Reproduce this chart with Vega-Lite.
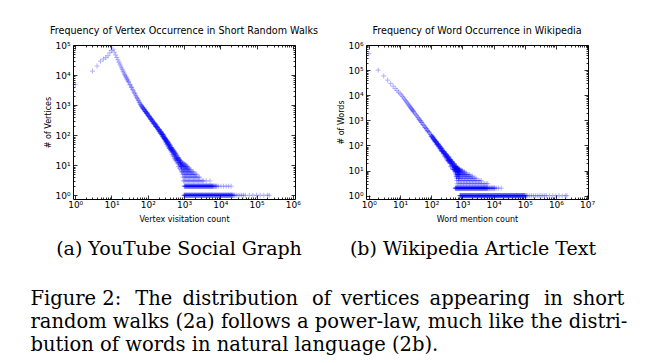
{
"$schema": "https://vega.github.io/schema/vega-lite/v6.json",
"padding": {"left": 30, "top": 25, "right": 5, "bottom": 5},
"autosize": {"type": "pad"},
"background": "white",
"datasets": {
"a": [
{"x":1,"y":4900},{"x":3,"y":13500},{"x":4,"y":20000},{"x":5,"y":29000},{"x":6,"y":34000},{"x":7,"y":38000},{"x":8,"y":44000},{"x":9,"y":55000},{"x":10,"y":66000},{"x":11,"y":72000},{"x":12,"y":57500},{"x":13,"y":46500},{"x":14,"y":38500},{"x":15,"y":32000},{"x":16,"y":27000},{"x":17,"y":23200},{"x":18,"y":19950},{"x":19,"y":17200},{"x":20,"y":15100},{"x":21,"y":13300},{"x":22,"y":11800},{"x":23,"y":10500},{"x":24,"y":9500},
{"x":25,"y":8700},{"x":26,"y":8050},{"x":27,"y":7300},{"x":28,"y":6800},{"x":29,"y":6180},{"x":30,"y":5800},{"x":32,"y":4930},{"x":33,"y":4650},{"x":35,"y":4020},{"x":36,"y":3830},{"x":38,"y":3330},{"x":40,"y":3010},{"x":42,"y":2650},{"x":44,"y":2430},{"x":46,"y":2150},{"x":48,"y":1990},{"x":50,"y":1780},{"x":52,"y":1660},{"x":54,"y":1490},{"x":56,"y":1400},{"x":58,"y":1265},{"x":60,"y":1200},{"x":62,"y":1085},
{"x":64,"y":1042},{"x":67,"y":925},{"x":70,"y":881},{"x":73,"y":782},{"x":76,"y":790},{"x":79,"y":708},{"x":82,"y":684},{"x":85,"y":610},{"x":88,"y":628},{"x":91,"y":550},{"x":94,"y":535},{"x":97,"y":523},{"x":100,"y":460},{"x":104,"y":460},{"x":108,"y":419},{"x":112,"y":422},{"x":116,"y":350},{"x":120,"y":367},{"x":124,"y":335},{"x":128,"y":336},{"x":132,"y":317},{"x":136,"y":280},{"x":140,"y":278},{"x":145,"y":241},{"x":150,"y":261},{"x":155,"y":229},{"x":160,"y":227},{"x":165,"y":197},{"x":170,"y":217},{"x":175,"y":182},{"x":180,"y":181},{"x":186,"y":180},{"x":192,"y":150},{"x":198,"y":160},{"x":204,"y":143},{"x":210,"y":153},{"x":216,"y":118},{"x":222,"y":135},{"x":228,"y":121},{"x":234,"y":127},{"x":240,"y":120},{"x":246,"y":103},
{"x":66,"y":978},{"x":69,"y":928},{"x":72,"y":817},{"x":75,"y":801},{"x":78,"y":730},{"x":81,"y":721},{"x":84,"y":616},{"x":87,"y":630},{"x":90,"y":578},{"x":93,"y":570},{"x":96,"y":539},{"x":99,"y":483},{"x":102,"y":471},{"x":106,"y":413},{"x":110,"y":432},{"x":114,"y":384},{"x":118,"y":376},{"x":122,"y":329},{"x":126,"y":352},{"x":130,"y":300},{"x":134,"y":295},{"x":138,"y":293},{"x":143,"y":251},{"x":148,"y":258},{"x":153,"y":233},{"x":158,"y":243},{"x":163,"y":194},{"x":168,"y":213},{"x":173,"y":193},{"x":178,"y":197},{"x":183,"y":187},{"x":189,"y":161},{"x":195,"y":162},{"x":201,"y":136},{"x":207,"y":155},{"x":213,"y":135},{"x":219,"y":137},{"x":225,"y":115},{"x":231,"y":134},{"x":237,"y":109},{"x":243,"y":110},
{"x":250,"y":108},{"x":255,"y":90},{"x":260,"y":108},{"x":265,"y":92},{"x":270,"y":96},{"x":276,"y":78},{"x":282,"y":95},{"x":288,"y":75},{"x":294,"y":77},{"x":300,"y":80},{"x":306,"y":63},{"x":312,"y":72},{"x":318,"y":63},{"x":325,"y":72},{"x":332,"y":50},{"x":339,"y":63},{"x":346,"y":55},{"x":353,"y":60},{"x":360,"y":58},{"x":367,"y":46},{"x":374,"y":49},{"x":382,"y":38},{"x":390,"y":51},{"x":398,"y":41},{"x":406,"y":44},{"x":414,"y":34},{"x":422,"y":46},{"x":431,"y":33},{"x":440,"y":35},{"x":449,"y":38},{"x":458,"y":27},{"x":467,"y":33},{"x":476,"y":28},{"x":486,"y":35},{"x":496,"y":20},{"x":506,"y":30},{"x":516,"y":25},{"x":527,"y":29},{"x":538,"y":27},{"x":549,"y":20},{"x":560,"y":23},{"x":571,"y":15},{"x":583,"y":24},{"x":595,"y":18},{"x":607,"y":21},{"x":619,"y":14},{"x":632,"y":22},{"x":645,"y":14},{"x":658,"y":16},{"x":671,"y":18},{"x":685,"y":11},{"x":699,"y":16},{"x":713,"y":12},{"x":728,"y":17},{"x":743,"y":8},{"x":758,"y":14},{"x":773,"y":11},{"x":789,"y":14},{"x":805,"y":13},{"x":821,"y":9},{"x":838,"y":10},{"x":855,"y":6},
{"x":252,"y":102},{"x":257,"y":105},{"x":262,"y":87},{"x":267,"y":105},{"x":273,"y":83},{"x":279,"y":85},{"x":285,"y":88},{"x":291,"y":70},{"x":297,"y":79},{"x":303,"y":70},{"x":309,"y":79},{"x":315,"y":56},{"x":321,"y":69},{"x":328,"y":61},{"x":335,"y":66},{"x":342,"y":63},{"x":349,"y":51},{"x":356,"y":54},{"x":363,"y":42},{"x":370,"y":56},{"x":378,"y":46},{"x":386,"y":48},{"x":394,"y":37},{"x":402,"y":50},{"x":410,"y":36},{"x":418,"y":39},{"x":426,"y":41},{"x":435,"y":30},{"x":444,"y":37},{"x":453,"y":31},{"x":462,"y":38},{"x":471,"y":23},{"x":481,"y":33},{"x":491,"y":28},{"x":501,"y":32},{"x":511,"y":30},{"x":521,"y":22},{"x":532,"y":25},{"x":543,"y":17},{"x":554,"y":27},{"x":565,"y":20},{"x":577,"y":23},{"x":589,"y":16},{"x":601,"y":25},{"x":613,"y":16},{"x":625,"y":17},{"x":638,"y":20},{"x":651,"y":12},{"x":664,"y":17},{"x":678,"y":14},{"x":692,"y":18},{"x":706,"y":9},{"x":720,"y":15},{"x":735,"y":12},{"x":750,"y":15},{"x":765,"y":15},{"x":781,"y":10},{"x":797,"y":12},{"x":813,"y":7},{"x":829,"y":13},{"x":846,"y":9},
{"x":800,"y":12},{"x":870,"y":12},{"x":935,"y":12},
{"x":820,"y":11},{"x":900,"y":11},{"x":980,"y":11},{"x":1050,"y":11},
{"x":830,"y":10},{"x":910,"y":10},{"x":990,"y":10},{"x":1070,"y":10},{"x":1140,"y":10},
{"x":860,"y":9},{"x":940,"y":9},{"x":1020,"y":9},{"x":1100,"y":9},{"x":1180,"y":9},{"x":1260,"y":9},
{"x":870,"y":8},{"x":950,"y":8},{"x":1030,"y":8},{"x":1110,"y":8},{"x":1200,"y":8},{"x":1290,"y":8},{"x":1380,"y":8},
{"x":880,"y":7},{"x":960,"y":7},{"x":1045,"y":7},{"x":1130,"y":7},{"x":1220,"y":7},{"x":1320,"y":7},{"x":1430,"y":7},{"x":1540,"y":7},
{"x":900,"y":6},{"x":980,"y":6},{"x":1060,"y":6},{"x":1150,"y":6},{"x":1250,"y":6},{"x":1350,"y":6},{"x":1460,"y":6},{"x":1580,"y":6},{"x":1710,"y":6},{"x":1850,"y":6},
{"x":920,"y":5},{"x":1000,"y":5},{"x":1085,"y":5},{"x":1175,"y":5},{"x":1275,"y":5},{"x":1380,"y":5},{"x":1495,"y":5},{"x":1620,"y":5},{"x":1755,"y":5},{"x":1900,"y":5},{"x":2060,"y":5},{"x":2230,"y":5},
{"x":940,"y":4},{"x":1020,"y":4},{"x":1105,"y":4},{"x":1200,"y":4},{"x":1300,"y":4},{"x":1410,"y":4},{"x":1530,"y":4},{"x":1660,"y":4},{"x":1800,"y":4},{"x":1950,"y":4},{"x":2110,"y":4},{"x":2290,"y":4},{"x":2480,"y":4},{"x":2690,"y":4},
{"x":960,"y":3},{"x":1040,"y":3},{"x":1130,"y":3},{"x":1225,"y":3},{"x":1330,"y":3},{"x":1440,"y":3},{"x":1560,"y":3},{"x":1690,"y":3},{"x":1830,"y":3},{"x":1985,"y":3},{"x":2150,"y":3},{"x":2330,"y":3},{"x":2525,"y":3},{"x":2740,"y":3},{"x":2970,"y":3},{"x":3220,"y":3},{"x":3490,"y":3},{"x":4100,"y":3},{"x":5200,"y":3},
{"x":1023,"y":2},{"x":1072,"y":2},{"x":1122,"y":2},{"x":1175,"y":2},{"x":1230,"y":2},{"x":1288,"y":2},{"x":1349,"y":2},{"x":1413,"y":2},{"x":1479,"y":2},{"x":1549,"y":2},{"x":1622,"y":2},{"x":1698,"y":2},{"x":1778,"y":2},{"x":1862,"y":2},{"x":1950,"y":2},{"x":2042,"y":2},{"x":2138,"y":2},{"x":2239,"y":2},{"x":2344,"y":2},{"x":2455,"y":2},{"x":2570,"y":2},{"x":2692,"y":2},{"x":2818,"y":2},{"x":2951,"y":2},{"x":3090,"y":2},{"x":3236,"y":2},{"x":3388,"y":2},{"x":3548,"y":2},{"x":3715,"y":2},{"x":3890,"y":2},{"x":4074,"y":2},{"x":4266,"y":2},{"x":4467,"y":2},{"x":4677,"y":2},{"x":4898,"y":2},{"x":5129,"y":2},{"x":5370,"y":2},{"x":5623,"y":2},{"x":5888,"y":2},{"x":6166,"y":2},{"x":6457,"y":2},{"x":6761,"y":2},{"x":7079,"y":2},{"x":7413,"y":2},{"x":7762,"y":2},{"x":8128,"y":2},{"x":9000,"y":2},{"x":10500,"y":2},{"x":12300,"y":2},{"x":14500,"y":2},{"x":17000,"y":2},{"x":20000,"y":2},
{"x":1047,"y":2},{"x":1096,"y":2},{"x":1148,"y":2},{"x":1202,"y":2},{"x":1259,"y":2},{"x":1318,"y":2},{"x":1380,"y":2},{"x":1445,"y":2},{"x":1514,"y":2},{"x":1585,"y":2},{"x":1660,"y":2},{"x":1738,"y":2},{"x":1820,"y":2},{"x":1905,"y":2},{"x":1995,"y":2},{"x":2089,"y":2},{"x":2188,"y":2},{"x":2291,"y":2},{"x":2399,"y":2},{"x":2512,"y":2},{"x":2630,"y":2},{"x":2754,"y":2},{"x":2884,"y":2},{"x":3020,"y":2},{"x":3162,"y":2},{"x":3311,"y":2},{"x":3467,"y":2},{"x":3631,"y":2},{"x":3802,"y":2},{"x":3981,"y":2},{"x":4169,"y":2},{"x":4365,"y":2},{"x":4571,"y":2},{"x":4786,"y":2},{"x":5012,"y":2},{"x":5248,"y":2},{"x":5495,"y":2},{"x":5754,"y":2},{"x":6026,"y":2},{"x":6310,"y":2},
{"x":1000,"y":1},{"x":1047,"y":1},{"x":1096,"y":1},{"x":1148,"y":1},{"x":1202,"y":1},{"x":1259,"y":1},{"x":1318,"y":1},{"x":1380,"y":1},{"x":1445,"y":1},{"x":1514,"y":1},{"x":1585,"y":1},{"x":1660,"y":1},{"x":1738,"y":1},{"x":1820,"y":1},{"x":1905,"y":1},{"x":1995,"y":1},{"x":2089,"y":1},{"x":2188,"y":1},{"x":2291,"y":1},{"x":2399,"y":1},{"x":2512,"y":1},{"x":2630,"y":1},{"x":2754,"y":1},{"x":2884,"y":1},{"x":3020,"y":1},{"x":3162,"y":1},{"x":3311,"y":1},{"x":3467,"y":1},{"x":3631,"y":1},{"x":3802,"y":1},{"x":3981,"y":1},{"x":4169,"y":1},{"x":4365,"y":1},{"x":4571,"y":1},{"x":4786,"y":1},{"x":5012,"y":1},{"x":5248,"y":1},{"x":5495,"y":1},{"x":5754,"y":1},{"x":6026,"y":1},{"x":6310,"y":1},{"x":6607,"y":1},{"x":6918,"y":1},{"x":7244,"y":1},{"x":7586,"y":1},{"x":7943,"y":1},{"x":8318,"y":1},{"x":8710,"y":1},{"x":9120,"y":1},{"x":9550,"y":1},{"x":10000,"y":1},{"x":10470,"y":1},{"x":10960,"y":1},{"x":11480,"y":1},{"x":12020,"y":1},{"x":12590,"y":1},{"x":13180,"y":1},{"x":13800,"y":1},{"x":14450,"y":1},{"x":15140,"y":1},{"x":15850,"y":1},{"x":16600,"y":1},{"x":17380,"y":1},{"x":18200,"y":1},{"x":19050,"y":1},{"x":19950,"y":1},{"x":20890,"y":1},{"x":21880,"y":1},{"x":22910,"y":1},{"x":23990,"y":1},{"x":25120,"y":1},{"x":27540,"y":1},{"x":30900,"y":1},{"x":34670,"y":1},{"x":38900,"y":1},{"x":43650,"y":1},{"x":48980,"y":1},{"x":63100,"y":1},{"x":79430,"y":1},{"x":100000,"y":1},{"x":125900,"y":1},{"x":158500,"y":1},{"x":199500,"y":1},{"x":223900,"y":1},
{"x":1023,"y":1},{"x":1072,"y":1},{"x":1122,"y":1},{"x":1175,"y":1},{"x":1230,"y":1},{"x":1288,"y":1},{"x":1349,"y":1},{"x":1413,"y":1},{"x":1479,"y":1},{"x":1549,"y":1},{"x":1622,"y":1},{"x":1698,"y":1},{"x":1778,"y":1},{"x":1862,"y":1},{"x":1950,"y":1},{"x":2042,"y":1},{"x":2138,"y":1},{"x":2239,"y":1},{"x":2344,"y":1},{"x":2455,"y":1},{"x":2570,"y":1},{"x":2692,"y":1},{"x":2818,"y":1},{"x":2951,"y":1},{"x":3090,"y":1},{"x":3236,"y":1},{"x":3388,"y":1},{"x":3548,"y":1},{"x":3715,"y":1},{"x":3890,"y":1},{"x":4074,"y":1},{"x":4266,"y":1},{"x":4467,"y":1},{"x":4677,"y":1},{"x":4898,"y":1},{"x":5129,"y":1},{"x":5370,"y":1},{"x":5623,"y":1},{"x":5888,"y":1},{"x":6166,"y":1},{"x":6457,"y":1},{"x":6761,"y":1},{"x":7079,"y":1},{"x":7413,"y":1},{"x":7762,"y":1},{"x":8128,"y":1},{"x":8511,"y":1},{"x":8913,"y":1},{"x":9333,"y":1},{"x":9772,"y":1},{"x":10233,"y":1},{"x":10715,"y":1},{"x":11220,"y":1},{"x":11749,"y":1},{"x":12303,"y":1},{"x":12882,"y":1},{"x":13490,"y":1},{"x":14125,"y":1},{"x":14791,"y":1},{"x":15488,"y":1},{"x":16218,"y":1},{"x":16982,"y":1},{"x":17783,"y":1},{"x":18621,"y":1},{"x":19498,"y":1},{"x":20417,"y":1},{"x":21380,"y":1}
],
"b": [
{"x":1,"y":450000},{"x":2,"y":100000},{"x":3,"y":59000},{"x":4,"y":40000},{"x":5,"y":29500},{"x":6,"y":23000},{"x":7,"y":18700},{"x":8,"y":15600},{"x":9,"y":13300},{"x":10,"y":11500},{"x":11,"y":10300},
{"x":12,"y":8930},{"x":13,"y":7800},{"x":14,"y":6880},{"x":15,"y":6120},{"x":16,"y":5490},{"x":17,"y":4960},{"x":18,"y":4500},{"x":19,"y":4110},{"x":20,"y":3770},{"x":21,"y":3470},{"x":22,"y":3210},{"x":23,"y":2970},{"x":24,"y":2770},{"x":25,"y":2580},{"x":26,"y":2420},{"x":27,"y":2270},{"x":28,"y":2130},{"x":30,"y":1900},{"x":32,"y":1700},
{"x":34,"y":1566},{"x":36,"y":1374},{"x":38,"y":1280},{"x":40,"y":1126},{"x":42,"y":1108},{"x":44,"y":987},{"x":46,"y":936},{"x":48,"y":831},{"x":50,"y":836},{"x":53,"y":709},{"x":56,"y":661},{"x":59,"y":622},{"x":62,"y":532},{"x":65,"y":523},{"x":68,"y":469},{"x":71,"y":466},{"x":74,"y":385},{"x":77,"y":398},{"x":80,"y":360},{"x":84,"y":349},{"x":88,"y":322},{"x":92,"y":278},{"x":96,"y":269},{"x":100,"y":229},
{"x":104,"y":247},{"x":108,"y":215},{"x":112,"y":212},{"x":116,"y":181},{"x":120,"y":200},{"x":124,"y":165},{"x":128,"y":163},{"x":132,"y":164},{"x":136,"y":136},{"x":140,"y":146},{"x":145,"y":129},{"x":150,"y":137},{"x":155,"y":103},{"x":160,"y":118},{"x":165,"y":105},{"x":170,"y":110},{"x":175,"y":104},{"x":180,"y":87},{"x":186,"y":89},{"x":192,"y":72},{"x":198,"y":87},{"x":204,"y":73},{"x":210,"y":75},{"x":216,"y":60},{"x":222,"y":75},{"x":228,"y":57},{"x":235,"y":59},{"x":242,"y":61},{"x":249,"y":46},{"x":256,"y":53},{"x":263,"y":46},{"x":270,"y":54},{"x":278,"y":35},{"x":286,"y":46},{"x":294,"y":40},{"x":302,"y":44},{"x":310,"y":41},
{"x":102,"y":237},{"x":106,"y":233},{"x":110,"y":198},{"x":114,"y":217},{"x":118,"y":179},{"x":122,"y":178},{"x":126,"y":177},{"x":130,"y":146},{"x":134,"y":156},{"x":138,"y":141},{"x":142,"y":149},{"x":147,"y":113},{"x":152,"y":128},{"x":157,"y":114},{"x":162,"y":118},{"x":167,"y":112},{"x":172,"y":94},{"x":177,"y":96},{"x":183,"y":78},{"x":189,"y":94},{"x":195,"y":79},{"x":201,"y":81},{"x":207,"y":65},{"x":213,"y":80},{"x":219,"y":61},{"x":225,"y":63},{"x":231,"y":65},{"x":238,"y":50},{"x":245,"y":57},{"x":252,"y":50},{"x":259,"y":57},{"x":266,"y":38},{"x":274,"y":49},{"x":282,"y":42},{"x":290,"y":47},{"x":298,"y":44},{"x":306,"y":34},{"x":314,"y":37},
{"x":318,"y":32},{"x":325,"y":35},{"x":332,"y":26},{"x":339,"y":37},{"x":346,"y":29},{"x":353,"y":32},{"x":360,"y":24},{"x":368,"y":34},{"x":376,"y":23},{"x":384,"y":26},{"x":392,"y":28},{"x":400,"y":19},{"x":408,"y":25},{"x":417,"y":21},{"x":426,"y":27},{"x":435,"y":14},{"x":444,"y":23},{"x":453,"y":19},{"x":463,"y":22},{"x":473,"y":21},{"x":483,"y":15},{"x":493,"y":17},{"x":504,"y":11},{"x":515,"y":19},{"x":526,"y":14},{"x":537,"y":16},{"x":548,"y":11},{"x":560,"y":18},{"x":572,"y":11},{"x":584,"y":13},{"x":596,"y":15},{"x":609,"y":8},{"x":622,"y":13},{"x":635,"y":10},{"x":648,"y":14},{"x":662,"y":6},{"x":676,"y":12},{"x":690,"y":9},{"x":705,"y":12},{"x":720,"y":11},{"x":735,"y":7},{"x":750,"y":9},{"x":766,"y":5},{"x":782,"y":10},{"x":798,"y":7},
{"x":321,"y":27},{"x":328,"y":39},{"x":335,"y":31},{"x":342,"y":34},{"x":349,"y":25},{"x":356,"y":36},{"x":364,"y":25},{"x":372,"y":27},{"x":380,"y":30},{"x":388,"y":20},{"x":396,"y":26},{"x":404,"y":22},{"x":412,"y":28},{"x":421,"y":15},{"x":430,"y":24},{"x":439,"y":20},{"x":448,"y":24},{"x":458,"y":23},{"x":468,"y":16},{"x":478,"y":18},{"x":488,"y":12},{"x":498,"y":20},{"x":509,"y":15},{"x":520,"y":17},{"x":531,"y":11},{"x":542,"y":19},{"x":554,"y":11},{"x":566,"y":13},{"x":578,"y":15},{"x":590,"y":9},{"x":602,"y":13},{"x":615,"y":10},{"x":628,"y":15},{"x":641,"y":6},{"x":655,"y":12},{"x":669,"y":10},{"x":683,"y":12},{"x":697,"y":12},{"x":712,"y":7},{"x":727,"y":9},{"x":742,"y":5},{"x":758,"y":11},{"x":774,"y":7},{"x":790,"y":9},
{"x":560,"y":14},{"x":620,"y":14},
{"x":570,"y":13},{"x":640,"y":13},{"x":700,"y":13},
{"x":580,"y":12},{"x":650,"y":12},{"x":720,"y":12},{"x":790,"y":12},
{"x":590,"y":11},{"x":660,"y":11},{"x":735,"y":11},{"x":810,"y":11},{"x":890,"y":11},
{"x":600,"y":10},{"x":670,"y":10},{"x":745,"y":10},{"x":825,"y":10},{"x":910,"y":10},{"x":1000,"y":10},
{"x":610,"y":9},{"x":685,"y":9},{"x":760,"y":9},{"x":845,"y":9},{"x":935,"y":9},{"x":1035,"y":9},{"x":1150,"y":9},
{"x":620,"y":8},{"x":700,"y":8},{"x":780,"y":8},{"x":865,"y":8},{"x":960,"y":8},{"x":1065,"y":8},{"x":1180,"y":8},{"x":1310,"y":8},
{"x":630,"y":7},{"x":710,"y":7},{"x":795,"y":7},{"x":885,"y":7},{"x":985,"y":7},{"x":1095,"y":7},{"x":1215,"y":7},{"x":1350,"y":7},{"x":1500,"y":7},{"x":1670,"y":7},
{"x":640,"y":6},{"x":720,"y":6},{"x":810,"y":6},{"x":905,"y":6},{"x":1010,"y":6},{"x":1125,"y":6},{"x":1250,"y":6},{"x":1390,"y":6},{"x":1545,"y":6},{"x":1720,"y":6},{"x":1910,"y":6},{"x":2120,"y":6},
{"x":650,"y":5},{"x":735,"y":5},{"x":825,"y":5},{"x":925,"y":5},{"x":1035,"y":5},{"x":1155,"y":5},{"x":1290,"y":5},{"x":1435,"y":5},{"x":1600,"y":5},{"x":1780,"y":5},{"x":1985,"y":5},{"x":2210,"y":5},{"x":2460,"y":5},{"x":2740,"y":5},
{"x":660,"y":4},{"x":750,"y":4},{"x":840,"y":4},{"x":945,"y":4},{"x":1060,"y":4},{"x":1185,"y":4},{"x":1325,"y":4},{"x":1480,"y":4},{"x":1655,"y":4},{"x":1850,"y":4},{"x":2065,"y":4},{"x":2310,"y":4},{"x":2580,"y":4},{"x":2880,"y":4},{"x":3220,"y":4},{"x":3600,"y":4},{"x":4000,"y":4},
{"x":680,"y":3},{"x":765,"y":3},{"x":860,"y":3},{"x":965,"y":3},{"x":1085,"y":3},{"x":1215,"y":3},{"x":1360,"y":3},{"x":1520,"y":3},{"x":1700,"y":3},{"x":1900,"y":3},{"x":2125,"y":3},{"x":2375,"y":3},{"x":2655,"y":3},{"x":2970,"y":3},{"x":3320,"y":3},{"x":3710,"y":3},{"x":4150,"y":3},{"x":4640,"y":3},{"x":5190,"y":3},{"x":5800,"y":3},{"x":6500,"y":3},
{"x":589,"y":2},{"x":617,"y":2},{"x":646,"y":2},{"x":676,"y":2},{"x":708,"y":2},{"x":741,"y":2},{"x":776,"y":2},{"x":813,"y":2},{"x":851,"y":2},{"x":891,"y":2},{"x":933,"y":2},{"x":977,"y":2},{"x":1023,"y":2},{"x":1072,"y":2},{"x":1122,"y":2},{"x":1175,"y":2},{"x":1230,"y":2},{"x":1288,"y":2},{"x":1349,"y":2},{"x":1413,"y":2},{"x":1479,"y":2},{"x":1549,"y":2},{"x":1622,"y":2},{"x":1698,"y":2},{"x":1778,"y":2},{"x":1862,"y":2},{"x":1950,"y":2},{"x":2042,"y":2},{"x":2138,"y":2},{"x":2239,"y":2},{"x":2344,"y":2},{"x":2455,"y":2},{"x":2570,"y":2},{"x":2692,"y":2},{"x":2818,"y":2},{"x":2951,"y":2},{"x":3090,"y":2},{"x":3236,"y":2},{"x":3388,"y":2},{"x":3548,"y":2},{"x":3715,"y":2},{"x":3890,"y":2},{"x":4074,"y":2},{"x":4266,"y":2},{"x":4467,"y":2},{"x":4677,"y":2},{"x":4898,"y":2},{"x":5129,"y":2},{"x":5370,"y":2},{"x":5623,"y":2},{"x":5888,"y":2},{"x":6166,"y":2},{"x":6457,"y":2},{"x":6761,"y":2},{"x":7079,"y":2},{"x":7413,"y":2},{"x":7762,"y":2},{"x":8128,"y":2},{"x":8511,"y":2},{"x":8913,"y":2},{"x":9333,"y":2},{"x":9772,"y":2},{"x":10233,"y":2},{"x":10715,"y":2},{"x":11220,"y":2},{"x":12600,"y":2},{"x":14500,"y":2},{"x":17800,"y":2},
{"x":603,"y":2},{"x":631,"y":2},{"x":661,"y":2},{"x":692,"y":2},{"x":724,"y":2},{"x":759,"y":2},{"x":794,"y":2},{"x":832,"y":2},{"x":871,"y":2},{"x":912,"y":2},{"x":955,"y":2},{"x":1000,"y":2},{"x":1047,"y":2},{"x":1096,"y":2},{"x":1148,"y":2},{"x":1202,"y":2},{"x":1259,"y":2},{"x":1318,"y":2},{"x":1380,"y":2},{"x":1445,"y":2},{"x":1514,"y":2},{"x":1585,"y":2},{"x":1660,"y":2},{"x":1738,"y":2},{"x":1820,"y":2},{"x":1905,"y":2},{"x":1995,"y":2},{"x":2089,"y":2},{"x":2188,"y":2},{"x":2291,"y":2},{"x":2399,"y":2},{"x":2512,"y":2},{"x":2630,"y":2},{"x":2754,"y":2},{"x":2884,"y":2},{"x":3020,"y":2},{"x":3162,"y":2},{"x":3311,"y":2},{"x":3467,"y":2},{"x":3631,"y":2},{"x":3802,"y":2},{"x":3981,"y":2},{"x":4169,"y":2},{"x":4365,"y":2},{"x":4571,"y":2},{"x":4786,"y":2},{"x":5012,"y":2},{"x":5248,"y":2},{"x":5495,"y":2},{"x":5754,"y":2},{"x":6026,"y":2},{"x":6310,"y":2},
{"x":832,"y":1},{"x":871,"y":1},{"x":912,"y":1},{"x":955,"y":1},{"x":1000,"y":1},{"x":1047,"y":1},{"x":1096,"y":1},{"x":1148,"y":1},{"x":1202,"y":1},{"x":1259,"y":1},{"x":1318,"y":1},{"x":1380,"y":1},{"x":1445,"y":1},{"x":1514,"y":1},{"x":1585,"y":1},{"x":1660,"y":1},{"x":1738,"y":1},{"x":1820,"y":1},{"x":1905,"y":1},{"x":1995,"y":1},{"x":2089,"y":1},{"x":2188,"y":1},{"x":2291,"y":1},{"x":2399,"y":1},{"x":2512,"y":1},{"x":2630,"y":1},{"x":2754,"y":1},{"x":2884,"y":1},{"x":3020,"y":1},{"x":3162,"y":1},{"x":3311,"y":1},{"x":3467,"y":1},{"x":3631,"y":1},{"x":3802,"y":1},{"x":3981,"y":1},{"x":4169,"y":1},{"x":4365,"y":1},{"x":4571,"y":1},{"x":4786,"y":1},{"x":5012,"y":1},{"x":5248,"y":1},{"x":5495,"y":1},{"x":5754,"y":1},{"x":6026,"y":1},{"x":6310,"y":1},{"x":6607,"y":1},{"x":6918,"y":1},{"x":7244,"y":1},{"x":7586,"y":1},{"x":7943,"y":1},{"x":8318,"y":1},{"x":8710,"y":1},{"x":9120,"y":1},{"x":9550,"y":1},{"x":10000,"y":1},{"x":10470,"y":1},{"x":10960,"y":1},{"x":11480,"y":1},{"x":12020,"y":1},{"x":12590,"y":1},{"x":13180,"y":1},{"x":13800,"y":1},{"x":14450,"y":1},{"x":15140,"y":1},{"x":15850,"y":1},{"x":16600,"y":1},{"x":17380,"y":1},{"x":18200,"y":1},{"x":19050,"y":1},{"x":19950,"y":1},{"x":20890,"y":1},{"x":21880,"y":1},{"x":22910,"y":1},{"x":23990,"y":1},{"x":25120,"y":1},{"x":26300,"y":1},{"x":27540,"y":1},{"x":28840,"y":1},{"x":30200,"y":1},{"x":31620,"y":1},{"x":33110,"y":1},{"x":34670,"y":1},{"x":36310,"y":1},{"x":38020,"y":1},{"x":39810,"y":1},{"x":41690,"y":1},{"x":43650,"y":1},{"x":45710,"y":1},{"x":47860,"y":1},{"x":50120,"y":1},{"x":52480,"y":1},{"x":54950,"y":1},{"x":57540,"y":1},{"x":60260,"y":1},{"x":63100,"y":1},{"x":66070,"y":1},{"x":69180,"y":1},{"x":72440,"y":1},{"x":75860,"y":1},{"x":79430,"y":1},{"x":83180,"y":1},{"x":87100,"y":1},{"x":91200,"y":1},{"x":95500,"y":1},{"x":100000,"y":1},{"x":104700,"y":1},{"x":109600,"y":1},{"x":114800,"y":1},{"x":125900,"y":1},{"x":144500,"y":1},{"x":166000,"y":1},{"x":190500,"y":1},{"x":218800,"y":1},{"x":251200,"y":1},{"x":288400,"y":1},{"x":331100,"y":1},{"x":380200,"y":1},{"x":436500,"y":1},{"x":501200,"y":1},{"x":631000,"y":1},{"x":794300,"y":1},{"x":1000000,"y":1},{"x":1259000,"y":1},{"x":1585000,"y":1},{"x":1995000,"y":1},{"x":2239000,"y":1},
{"x":851,"y":1},{"x":891,"y":1},{"x":933,"y":1},{"x":977,"y":1},{"x":1023,"y":1},{"x":1072,"y":1},{"x":1122,"y":1},{"x":1175,"y":1},{"x":1230,"y":1},{"x":1288,"y":1},{"x":1349,"y":1},{"x":1413,"y":1},{"x":1479,"y":1},{"x":1549,"y":1},{"x":1622,"y":1},{"x":1698,"y":1},{"x":1778,"y":1},{"x":1862,"y":1},{"x":1950,"y":1},{"x":2042,"y":1},{"x":2138,"y":1},{"x":2239,"y":1},{"x":2344,"y":1},{"x":2455,"y":1},{"x":2570,"y":1},{"x":2692,"y":1},{"x":2818,"y":1},{"x":2951,"y":1},{"x":3090,"y":1},{"x":3236,"y":1},{"x":3388,"y":1},{"x":3548,"y":1},{"x":3715,"y":1},{"x":3890,"y":1},{"x":4074,"y":1},{"x":4266,"y":1},{"x":4467,"y":1},{"x":4677,"y":1},{"x":4898,"y":1},{"x":5129,"y":1},{"x":5370,"y":1},{"x":5623,"y":1},{"x":5888,"y":1},{"x":6166,"y":1},{"x":6457,"y":1},{"x":6761,"y":1},{"x":7079,"y":1},{"x":7413,"y":1},{"x":7762,"y":1},{"x":8128,"y":1},{"x":8511,"y":1},{"x":8913,"y":1},{"x":9333,"y":1},{"x":9772,"y":1},{"x":10233,"y":1},{"x":10715,"y":1},{"x":11220,"y":1},{"x":11749,"y":1},{"x":12303,"y":1},{"x":12882,"y":1},{"x":13490,"y":1},{"x":14125,"y":1},{"x":14791,"y":1},{"x":15488,"y":1},{"x":16218,"y":1},{"x":16982,"y":1},{"x":17783,"y":1},{"x":18621,"y":1},{"x":19498,"y":1},{"x":20417,"y":1},{"x":21380,"y":1},{"x":22387,"y":1},{"x":23442,"y":1},{"x":24547,"y":1},{"x":25704,"y":1},{"x":26915,"y":1},{"x":28184,"y":1},{"x":29512,"y":1},{"x":30903,"y":1},{"x":32359,"y":1},{"x":33884,"y":1},{"x":35481,"y":1},{"x":37154,"y":1},{"x":38905,"y":1},{"x":40738,"y":1},{"x":42658,"y":1},{"x":44668,"y":1},{"x":46774,"y":1},{"x":48978,"y":1},{"x":51286,"y":1},{"x":53703,"y":1},{"x":56234,"y":1},{"x":58884,"y":1},{"x":61660,"y":1},{"x":64565,"y":1},{"x":67608,"y":1},{"x":70795,"y":1},{"x":74131,"y":1},{"x":77625,"y":1},{"x":81283,"y":1},{"x":85114,"y":1},{"x":89125,"y":1},{"x":93325,"y":1},{"x":97724,"y":1}
]
},
"config": {
"view": {"stroke": "black", "strokeWidth": 1},
"axis": {"labelFont": "DejaVu Sans", "titleFont": "DejaVu Sans", "labelFontSize": 9, "titleFontSize": 8, "titleFontWeight": "normal", "labelColor": "black", "titleColor": "black", "domain": false, "grid": false, "tickColor": "black", "tickWidth": 0.8, "labelOverlap": false, "labelFlush": false},
"title": {"font": "DejaVu Sans", "fontSize": 9.6, "fontWeight": "normal", "color": "black"}
},
"title": {"text": ["Figure 2: \u2009\u2009The \u2009distribution \u2009\u2009of \u2009vertices \u2009appearing \u2009\u2009in \u2009short", "random walks (2a) follows a power-law, much like the distri-", "bution of words in natural language (2b)."], "orient": "bottom", "anchor": "start", "font": "DejaVu Serif", "fontSize": 19.5, "lineHeight": 23, "offset": 31, "dx": -14, "fontWeight": "normal", "color": "black"},
"columns": 2,
"spacing": {"row": 40, "column": 71},
"bounds": "flush",
"concat": [
{
"width": 222, "height": 154,
"title": {"text": "Frequency of Vertex Occurrence in Short Random Walks", "offset": 5},
"layer": [
{"data": {"name": "a"},
"mark": {"type": "point", "shape": "M-1,0L1,0M0,-1L0,1", "filled": false, "color": "#0000ff", "strokeWidth": 1, "size": 25, "opacity": 0.3},
"encoding": {
"x": {"field": "x", "type": "quantitative", "scale": {"type": "log", "domain": [0.87, 1150000], "nice": false},
"axis": {"title": "Vertex visitation count", "titlePadding": 4, "labelPadding": 5,
"values": [1,2,3,4,5,6,7,8,9,10,20,30,40,50,60,70,80,90,100,200,300,400,500,600,700,800,900,1000,2000,3000,4000,5000,6000,7000,8000,9000,10000,20000,30000,40000,50000,60000,70000,80000,90000,100000,200000,300000,400000,500000,600000,700000,800000,900000,1000000],
"labelExpr": "abs(log(datum.value)/LN10-round(log(datum.value)/LN10))<0.001 ? '10'+['⁰','¹','²','³','⁴','⁵','⁶','⁷'][round(log(datum.value)/LN10)] : ''",
"tickSize": {"condition": {"test": "abs(log(datum.value)/LN10-round(log(datum.value)/LN10))<0.001", "value": -4}, "value": -2}}},
"y": {"field": "y", "type": "quantitative", "scale": {"type": "log", "domain": [0.75, 100000], "nice": false},
"axis": {"title": "# of Vertices", "titlePadding": 2, "labelPadding": 7,
"values": [1,2,3,4,5,6,7,8,9,10,20,30,40,50,60,70,80,90,100,200,300,400,500,600,700,800,900,1000,2000,3000,4000,5000,6000,7000,8000,9000,10000,20000,30000,40000,50000,60000,70000,80000,90000,100000],
"labelExpr": "abs(log(datum.value)/LN10-round(log(datum.value)/LN10))<0.001 ? '10'+['⁰','¹','²','³','⁴','⁵','⁶','⁷'][round(log(datum.value)/LN10)] : ''",
"tickSize": {"condition": {"test": "abs(log(datum.value)/LN10-round(log(datum.value)/LN10))<0.001", "value": -4}, "value": -2}}}
}},
{"data": {"values": [{"x": 1, "y": 1}]},
"mark": {"type": "point", "opacity": 0},
"encoding": {
"x": {"field": "x", "type": "quantitative", "scale": {"type": "log", "domain": [0.87, 1150000], "nice": false},
"axis": {"orient": "top", "labels": false, "title": null,
"values": [1,2,3,4,5,6,7,8,9,10,20,30,40,50,60,70,80,90,100,200,300,400,500,600,700,800,900,1000,2000,3000,4000,5000,6000,7000,8000,9000,10000,20000,30000,40000,50000,60000,70000,80000,90000,100000,200000,300000,400000,500000,600000,700000,800000,900000,1000000],
"tickSize": {"condition": {"test": "abs(log(datum.value)/LN10-round(log(datum.value)/LN10))<0.001", "value": -4}, "value": -2}}},
"y": {"field": "y", "type": "quantitative", "scale": {"type": "log", "domain": [0.75, 100000], "nice": false},
"axis": {"orient": "right", "labels": false, "title": null,
"values": [1,2,3,4,5,6,7,8,9,10,20,30,40,50,60,70,80,90,100,200,300,400,500,600,700,800,900,1000,2000,3000,4000,5000,6000,7000,8000,9000,10000,20000,30000,40000,50000,60000,70000,80000,90000,100000],
"tickSize": {"condition": {"test": "abs(log(datum.value)/LN10-round(log(datum.value)/LN10))<0.001", "value": -4}, "value": -2}}}
}}
],
"resolve": {"axis": {"x": "independent", "y": "independent"}}
},
{
"width": 222, "height": 154,
"title": {"text": "Frequency of Word Occurrence in Wikipedia", "offset": 5},
"layer": [
{"data": {"name": "b"},
"mark": {"type": "point", "shape": "M-1,0L1,0M0,-1L0,1", "filled": false, "color": "#0000ff", "strokeWidth": 1, "size": 25, "opacity": 0.3},
"encoding": {
"x": {"field": "x", "type": "quantitative", "scale": {"type": "log", "domain": [0.81, 10700000], "nice": false},
"axis": {"title": "Word mention count", "titlePadding": 4, "labelPadding": 5,
"values": [1,2,3,4,5,6,7,8,9,10,20,30,40,50,60,70,80,90,100,200,300,400,500,600,700,800,900,1000,2000,3000,4000,5000,6000,7000,8000,9000,10000,20000,30000,40000,50000,60000,70000,80000,90000,100000,200000,300000,400000,500000,600000,700000,800000,900000,1000000,2000000,3000000,4000000,5000000,6000000,7000000,8000000,9000000,10000000],
"labelExpr": "abs(log(datum.value)/LN10-round(log(datum.value)/LN10))<0.001 ? '10'+['⁰','¹','²','³','⁴','⁵','⁶','⁷'][round(log(datum.value)/LN10)] : ''",
"tickSize": {"condition": {"test": "abs(log(datum.value)/LN10-round(log(datum.value)/LN10))<0.001", "value": -4}, "value": -2}}},
"y": {"field": "y", "type": "quantitative", "scale": {"type": "log", "domain": [0.74, 1000000], "nice": false},
"axis": {"title": "# of Words", "titlePadding": 2, "labelPadding": 7,
"values": [1,2,3,4,5,6,7,8,9,10,20,30,40,50,60,70,80,90,100,200,300,400,500,600,700,800,900,1000,2000,3000,4000,5000,6000,7000,8000,9000,10000,20000,30000,40000,50000,60000,70000,80000,90000,100000,200000,300000,400000,500000,600000,700000,800000,900000,1000000],
"labelExpr": "abs(log(datum.value)/LN10-round(log(datum.value)/LN10))<0.001 ? '10'+['⁰','¹','²','³','⁴','⁵','⁶','⁷'][round(log(datum.value)/LN10)] : ''",
"tickSize": {"condition": {"test": "abs(log(datum.value)/LN10-round(log(datum.value)/LN10))<0.001", "value": -4}, "value": -2}}}
}},
{"data": {"values": [{"x": 1, "y": 1}]},
"mark": {"type": "point", "opacity": 0},
"encoding": {
"x": {"field": "x", "type": "quantitative", "scale": {"type": "log", "domain": [0.81, 10700000], "nice": false},
"axis": {"orient": "top", "labels": false, "title": null,
"values": [1,2,3,4,5,6,7,8,9,10,20,30,40,50,60,70,80,90,100,200,300,400,500,600,700,800,900,1000,2000,3000,4000,5000,6000,7000,8000,9000,10000,20000,30000,40000,50000,60000,70000,80000,90000,100000,200000,300000,400000,500000,600000,700000,800000,900000,1000000,2000000,3000000,4000000,5000000,6000000,7000000,8000000,9000000,10000000],
"tickSize": {"condition": {"test": "abs(log(datum.value)/LN10-round(log(datum.value)/LN10))<0.001", "value": -4}, "value": -2}}},
"y": {"field": "y", "type": "quantitative", "scale": {"type": "log", "domain": [0.74, 1000000], "nice": false},
"axis": {"orient": "right", "labels": false, "title": null,
"values": [1,2,3,4,5,6,7,8,9,10,20,30,40,50,60,70,80,90,100,200,300,400,500,600,700,800,900,1000,2000,3000,4000,5000,6000,7000,8000,9000,10000,20000,30000,40000,50000,60000,70000,80000,90000,100000,200000,300000,400000,500000,600000,700000,800000,900000,1000000],
"tickSize": {"condition": {"test": "abs(log(datum.value)/LN10-round(log(datum.value)/LN10))<0.001", "value": -4}, "value": -2}}}
}}
],
"resolve": {"axis": {"x": "independent", "y": "independent"}}
},
{
"width": 222, "height": 20, "view": {"stroke": null},
"data": {"values": [{"t": "(a) YouTube Social Graph"}]},
"mark": {"type": "text", "font": "DejaVu Serif", "fontSize": 19, "dx": -5, "color": "black"},
"encoding": {"text": {"field": "t", "type": "nominal"}}
},
{
"width": 222, "height": 20, "view": {"stroke": null},
"data": {"values": [{"t": "(b) Wikipedia Article Text"}]},
"mark": {"type": "text", "font": "DejaVu Serif", "fontSize": 19, "dx": -4, "color": "black"},
"encoding": {"text": {"field": "t", "type": "nominal"}}
}
]
}
